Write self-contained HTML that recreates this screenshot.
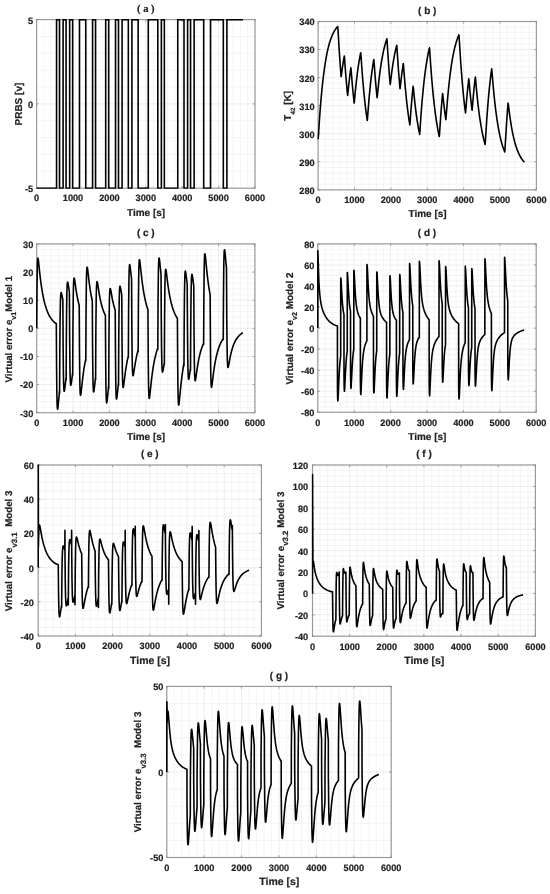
<!DOCTYPE html><html><head><meta charset="utf-8"><title>Figure</title><style>html,body{margin:0;padding:0;background:#fff}svg{display:block}text{text-rendering:geometricPrecision}</style></head><body>
<svg width="550" height="894" viewBox="0 0 550 894">
<rect width="550" height="894" fill="#fff"/>
<g id="pa">
<path d="M43.88 19.6V188.2M51.16 19.6V188.2M58.44 19.6V188.2M65.72 19.6V188.2M80.28 19.6V188.2M87.56 19.6V188.2M94.84 19.6V188.2M102.12 19.6V188.2M116.68 19.6V188.2M123.96 19.6V188.2M131.24 19.6V188.2M138.52 19.6V188.2M153.08 19.6V188.2M160.36 19.6V188.2M167.64 19.6V188.2M174.92 19.6V188.2M189.48 19.6V188.2M196.76 19.6V188.2M204.04 19.6V188.2M211.32 19.6V188.2M225.88 19.6V188.2M233.16 19.6V188.2M240.44 19.6V188.2M247.72 19.6V188.2M36.6 171.34H255M36.6 154.48H255M36.6 137.62H255M36.6 120.76H255M36.6 87.04H255M36.6 70.18H255M36.6 53.32H255M36.6 36.46H255" stroke="#f1f1f1" stroke-width="0.8" fill="none"/>
<path d="M36.6 19.6V188.2M73 19.6V188.2M109.4 19.6V188.2M145.8 19.6V188.2M182.2 19.6V188.2M218.6 19.6V188.2M255 19.6V188.2M36.6 188.2H255M36.6 103.9H255M36.6 19.6H255" stroke="#ebebeb" stroke-width="0.9" fill="none"/>
<rect x="36.6" y="19.6" width="218.4" height="168.6" fill="none" stroke="#999" stroke-width="1.15"/>
<path d="M36.6 188.2v-2.2M36.6 19.6v2.2M73 188.2v-2.2M73 19.6v2.2M109.4 188.2v-2.2M109.4 19.6v2.2M145.8 188.2v-2.2M145.8 19.6v2.2M182.2 188.2v-2.2M182.2 19.6v2.2M218.6 188.2v-2.2M218.6 19.6v2.2M255 188.2v-2.2M255 19.6v2.2M36.6 188.2h2.2M255 188.2h-2.2M36.6 103.9h2.2M255 103.9h-2.2M36.6 19.6h2.2M255 19.6h-2.2" stroke="#8a8a8a" stroke-width="0.8" fill="none"/>
<clipPath id="cppa"><rect x="35.6" y="19" width="220.4" height="169.8"/></clipPath>
<polyline clip-path="url(#cppa)" points="36.6,188.2 56.55,188.2 56.55,19.6 59.53,19.6 59.53,188.2 63.1,188.2 63.1,19.6 66.08,19.6 66.08,188.2 69.65,188.2 69.65,19.6 72.64,19.6 72.64,188.2 79.48,188.2 79.48,19.6 85.74,19.6 85.74,188.2 92.58,188.2 92.58,19.6 95.57,19.6 95.57,188.2 105.69,188.2 105.69,19.6 108.67,19.6 108.67,188.2 115.52,188.2 115.52,19.6 118.5,19.6 118.5,188.2 122.07,188.2 122.07,19.6 128.33,19.6 128.33,188.2 131.9,188.2 131.9,19.6 138.16,19.6 138.16,188.2 148.28,188.2 148.28,19.6 157.81,19.6 157.81,188.2 161.38,188.2 161.38,19.6 164.36,19.6 164.36,188.2 177.76,188.2 177.76,19.6 184.02,19.6 184.02,188.2 187.59,188.2 187.59,19.6 190.57,19.6 190.57,188.2 194.14,188.2 194.14,19.6 203.68,19.6 203.68,188.2 210.52,188.2 210.52,19.6 223.33,19.6 223.33,188.2 226.9,188.2 226.9,19.6 242.99,19.6" fill="none" stroke="#000" stroke-width="1.6" stroke-linejoin="round"/>
<g font-family='"Liberation Sans", Arial, Helvetica, sans-serif' font-weight="bold" font-size="9.2" fill="#222" stroke="#222" stroke-width="0.2">
<text x="36.6" y="201.4" text-anchor="middle">0</text>
<text x="73" y="201.4" text-anchor="middle">1000</text>
<text x="109.4" y="201.4" text-anchor="middle">2000</text>
<text x="145.8" y="201.4" text-anchor="middle">3000</text>
<text x="182.2" y="201.4" text-anchor="middle">4000</text>
<text x="218.6" y="201.4" text-anchor="middle">5000</text>
<text x="255" y="201.4" text-anchor="middle">6000</text>
<text x="33.2" y="192.1" text-anchor="end">-5</text>
<text x="33.2" y="107.8" text-anchor="end">0</text>
<text x="33.2" y="23.5" text-anchor="end">5</text>
</g>
<text x="146.1" y="215.5" text-anchor="middle" font-family='"Liberation Sans", Arial, Helvetica, sans-serif' font-weight="bold" font-size="10" fill="#222" stroke="#222" stroke-width="0.2">Time [s]</text>
<text x="145.8" y="11.7" text-anchor="middle" font-family='"Liberation Serif", "Times New Roman", serif' font-weight="bold" font-size="10.6" fill="#222" stroke="#222" stroke-width="0.2" xml:space="preserve" style="white-space:pre">( a )</text>
<text transform="translate(21.5 104.1) rotate(-90)" text-anchor="middle" font-family='"Liberation Sans", Arial, Helvetica, sans-serif' font-weight="bold" font-size="10" fill="#222" stroke="#222" stroke-width="0.2" xml:space="preserve" style="white-space:pre"><tspan dy="0">PRBS [v]</tspan></text>
</g>
<g id="pb">
<path d="M325.38 21.5V189.9M332.65 21.5V189.9M339.93 21.5V189.9M347.21 21.5V189.9M361.76 21.5V189.9M369.04 21.5V189.9M376.31 21.5V189.9M383.59 21.5V189.9M398.14 21.5V189.9M405.42 21.5V189.9M412.7 21.5V189.9M419.97 21.5V189.9M434.53 21.5V189.9M441.8 21.5V189.9M449.08 21.5V189.9M456.36 21.5V189.9M470.91 21.5V189.9M478.19 21.5V189.9M485.46 21.5V189.9M492.74 21.5V189.9M507.29 21.5V189.9M514.57 21.5V189.9M521.85 21.5V189.9M529.12 21.5V189.9M318.1 184.29H536.4M318.1 178.67H536.4M318.1 173.06H536.4M318.1 167.45H536.4M318.1 156.22H536.4M318.1 150.61H536.4M318.1 144.99H536.4M318.1 139.38H536.4M318.1 128.15H536.4M318.1 122.54H536.4M318.1 116.93H536.4M318.1 111.31H536.4M318.1 100.09H536.4M318.1 94.47H536.4M318.1 88.86H536.4M318.1 83.25H536.4M318.1 72.02H536.4M318.1 66.41H536.4M318.1 60.79H536.4M318.1 55.18H536.4M318.1 43.95H536.4M318.1 38.34H536.4M318.1 32.73H536.4M318.1 27.11H536.4" stroke="#f1f1f1" stroke-width="0.8" fill="none"/>
<path d="M318.1 21.5V189.9M354.48 21.5V189.9M390.87 21.5V189.9M427.25 21.5V189.9M463.63 21.5V189.9M500.02 21.5V189.9M536.4 21.5V189.9M318.1 189.9H536.4M318.1 161.83H536.4M318.1 133.77H536.4M318.1 105.7H536.4M318.1 77.63H536.4M318.1 49.57H536.4M318.1 21.5H536.4" stroke="#ebebeb" stroke-width="0.9" fill="none"/>
<rect x="318.1" y="21.5" width="218.3" height="168.4" fill="none" stroke="#999" stroke-width="1.15"/>
<path d="M318.1 189.9v-2.2M318.1 21.5v2.2M354.48 189.9v-2.2M354.48 21.5v2.2M390.87 189.9v-2.2M390.87 21.5v2.2M427.25 189.9v-2.2M427.25 21.5v2.2M463.63 189.9v-2.2M463.63 21.5v2.2M500.02 189.9v-2.2M500.02 21.5v2.2M536.4 189.9v-2.2M536.4 21.5v2.2M318.1 189.9h2.2M536.4 189.9h-2.2M318.1 161.83h2.2M536.4 161.83h-2.2M318.1 133.77h2.2M536.4 133.77h-2.2M318.1 105.7h2.2M536.4 105.7h-2.2M318.1 77.63h2.2M536.4 77.63h-2.2M318.1 49.57h2.2M536.4 49.57h-2.2M318.1 21.5h2.2M536.4 21.5h-2.2" stroke="#8a8a8a" stroke-width="0.8" fill="none"/>
<clipPath id="cppb"><rect x="317.1" y="20.9" width="220.3" height="169.6"/></clipPath>
<polyline clip-path="url(#cppb)" points="318.1,139.38 318.28,137.64 319.23,122.82 320.1,110.64 320.94,100.32 321.77,91.16 322.72,82.04 323.7,73.79 324.76,66.13 325.85,59.34 327.01,53.17 328.25,47.66 329.56,42.79 330.98,38.44 332.47,34.74 333.27,33.05 334.11,31.49 334.98,30.04 335.86,28.76 336.76,27.59 337.75,26.49 337.93,28.35 338.84,44.31 339.64,57.04 341.06,76.42 341.13,76.56 341.24,76.08 342.84,64.57 343.68,59.45 344.33,55.97 344.51,57.65 345.42,70.33 346.22,80.42 347.13,90.65 347.57,95.14 347.64,95.44 347.83,94.24 348.7,85.53 349.46,78.65 350.26,72.21 350.88,67.85 351.06,69.24 351.94,80.17 352.74,89.26 354.16,103.07 354.23,102.93 354.34,102.04 355.25,92.09 356.01,84.53 357.39,72.8 358.19,66.99 359.03,61.59 359.94,56.41 360.7,52.69 360.89,54.44 362.49,76.52 363.91,92.63 364.71,100.46 365.54,107.8 366.45,114.9 367.25,120.35 367.44,118.89 369.04,98.61 370.42,84.35 371.22,77.29 372.02,71 372.89,64.91 373.77,59.53 373.8,59.46 373.84,59.58 373.95,60.6 374.93,73.81 375.8,84.38 376.68,93.79 377.04,97.4 377.11,97.68 377.3,96.42 378.5,84.32 379.37,76.67 380.42,68.61 381.55,61.24 382.75,54.59 384.03,48.69 385.41,43.39 386.86,38.83 386.94,39.09 387.05,40.4 387.99,55.54 388.83,67.63 389.7,78.88 390.21,84.45 390.39,83.53 391.27,76.08 392.03,70.18 393.41,61.02 394.21,56.49 395.05,52.28 396,48.08 396.72,45.35 396.91,47.28 398.54,71.22 400,88.54 400.04,88.62 400.07,88.55 400.18,87.89 401.2,78.73 402.07,71.73 403.09,64.6 403.24,63.66 403.27,63.56 403.31,63.67 404.98,84.26 406.44,99.38 407.28,106.83 408.11,113.5 409.02,119.94 409.82,124.89 410,123.3 410.91,110.75 411.75,100.41 412.66,90.49 413.06,86.52 413.13,86.31 413.32,87.61 414.88,103.02 416.3,114.56 417.1,120.16 417.94,125.42 418.88,130.69 419.65,134.37 419.83,132.54 421.06,114.3 421.94,103.12 422.99,91.35 424.12,80.59 425.36,70.62 426.67,61.82 428.09,53.98 428.92,50.05 429.47,47.86 429.65,49.73 430.89,67.88 431.8,79.55 432.85,91.42 433.98,102.38 435.22,112.66 436.49,121.6 437.91,129.93 438.71,133.98 439.29,136.54 439.47,134.66 440.35,121.25 441.11,110.67 441.88,101.19 442.57,93.61 442.6,93.57 442.64,93.67 442.75,94.38 443.77,103.83 444.64,111.1 445.62,118.32 445.81,119.56 445.84,119.69 445.88,119.61 447.41,100.6 448.61,87.74 449.99,75.43 451.48,64.61 452.28,59.69 453.12,55.12 453.99,50.89 454.86,47.17 455.81,43.62 456.79,40.41 457.81,37.53 458.9,34.87 458.98,35.16 459.09,36.54 460.76,63.04 462.14,81.05 462.94,90.05 463.78,98.49 464.69,106.65 465.49,112.95 465.67,111.67 466.54,100.96 467.34,92.11 468.11,84.55 468.76,78.84 468.84,79.04 468.95,79.97 469.85,90.1 470.66,98.18 472.04,110.16 472.11,109.95 472.22,108.95 473.17,97.74 474,88.87 474.95,80.04 475.28,77.26 475.31,77.1 475.35,77.14 475.53,78.65 476.73,92.07 477.64,100.96 478.7,110.02 479.82,118.38 481.06,126.22 482.37,133.22 483.79,139.54 484.63,142.75 485.14,144.41 485.32,142.32 486.88,117.76 488.3,99.63 489.1,90.92 489.94,82.82 490.85,75.05 491.68,68.88 491.87,70.25 493.29,87.3 494.34,98.15 495.58,109.07 496.92,119.07 498.38,128.04 499.14,132.09 499.94,135.92 500.78,139.51 501.62,142.71 502.49,145.7 503.4,148.46 504.75,151.98 504.82,151.69 506.6,122.54 507.51,109.92 508.02,103.54 508.09,103.17 508.28,104.06 509.95,117.14 511.4,126.45 512.24,131.04 513.11,135.31 513.99,139.11 514.93,142.76 515.92,146.09 516.93,149.11 518.03,151.92 519.15,154.43 520.35,156.71 521.63,158.76 522.97,160.58 524.39,162.18" fill="none" stroke="#000" stroke-width="1.6" stroke-linejoin="round"/>
<g font-family='"Liberation Sans", Arial, Helvetica, sans-serif' font-weight="bold" font-size="9.2" fill="#222" stroke="#222" stroke-width="0.2">
<text x="318.1" y="203.1" text-anchor="middle">0</text>
<text x="354.48" y="203.1" text-anchor="middle">1000</text>
<text x="390.87" y="203.1" text-anchor="middle">2000</text>
<text x="427.25" y="203.1" text-anchor="middle">3000</text>
<text x="463.63" y="203.1" text-anchor="middle">4000</text>
<text x="500.02" y="203.1" text-anchor="middle">5000</text>
<text x="536.4" y="203.1" text-anchor="middle">6000</text>
<text x="314.7" y="193.8" text-anchor="end">280</text>
<text x="314.7" y="165.73" text-anchor="end">290</text>
<text x="314.7" y="137.67" text-anchor="end">300</text>
<text x="314.7" y="109.6" text-anchor="end">310</text>
<text x="314.7" y="81.53" text-anchor="end">320</text>
<text x="314.7" y="53.47" text-anchor="end">330</text>
<text x="314.7" y="25.4" text-anchor="end">340</text>
</g>
<text x="427.55" y="217.2" text-anchor="middle" font-family='"Liberation Sans", Arial, Helvetica, sans-serif' font-weight="bold" font-size="10" fill="#222" stroke="#222" stroke-width="0.2">Time [s]</text>
<text x="427.25" y="13.6" text-anchor="middle" font-family='"Liberation Sans", Arial, Helvetica, sans-serif' font-weight="bold" font-size="10" fill="#222" stroke="#222" stroke-width="0.2" xml:space="preserve" style="white-space:pre">( b )</text>
<text transform="translate(291.4 105.8) rotate(-90)" text-anchor="middle" font-family='"Liberation Sans", Arial, Helvetica, sans-serif' font-weight="bold" font-size="10" fill="#222" stroke="#222" stroke-width="0.2" xml:space="preserve" style="white-space:pre"><tspan dy="0">T</tspan><tspan font-size="6.2" dy="4.0">42</tspan><tspan dy="-4.0"> [K]</tspan></text>
</g>
<g id="pc">
<path d="M43.97 243.9V412.7M51.25 243.9V412.7M58.52 243.9V412.7M65.79 243.9V412.7M80.34 243.9V412.7M87.61 243.9V412.7M94.89 243.9V412.7M102.16 243.9V412.7M116.71 243.9V412.7M123.98 243.9V412.7M131.25 243.9V412.7M138.53 243.9V412.7M153.07 243.9V412.7M160.35 243.9V412.7M167.62 243.9V412.7M174.89 243.9V412.7M189.44 243.9V412.7M196.71 243.9V412.7M203.99 243.9V412.7M211.26 243.9V412.7M225.81 243.9V412.7M233.08 243.9V412.7M240.35 243.9V412.7M247.63 243.9V412.7M36.7 407.07H254.9M36.7 401.45H254.9M36.7 395.82H254.9M36.7 390.19H254.9M36.7 378.94H254.9M36.7 373.31H254.9M36.7 367.69H254.9M36.7 362.06H254.9M36.7 350.81H254.9M36.7 345.18H254.9M36.7 339.55H254.9M36.7 333.93H254.9M36.7 322.67H254.9M36.7 317.05H254.9M36.7 311.42H254.9M36.7 305.79H254.9M36.7 294.54H254.9M36.7 288.91H254.9M36.7 283.29H254.9M36.7 277.66H254.9M36.7 266.41H254.9M36.7 260.78H254.9M36.7 255.15H254.9M36.7 249.53H254.9" stroke="#f1f1f1" stroke-width="0.8" fill="none"/>
<path d="M36.7 243.9V412.7M73.07 243.9V412.7M109.43 243.9V412.7M145.8 243.9V412.7M182.17 243.9V412.7M218.53 243.9V412.7M254.9 243.9V412.7M36.7 412.7H254.9M36.7 384.57H254.9M36.7 356.43H254.9M36.7 328.3H254.9M36.7 300.17H254.9M36.7 272.03H254.9M36.7 243.9H254.9" stroke="#ebebeb" stroke-width="0.9" fill="none"/>
<rect x="36.7" y="243.9" width="218.2" height="168.8" fill="none" stroke="#999" stroke-width="1.15"/>
<path d="M36.7 412.7v-2.2M36.7 243.9v2.2M73.07 412.7v-2.2M73.07 243.9v2.2M109.43 412.7v-2.2M109.43 243.9v2.2M145.8 412.7v-2.2M145.8 243.9v2.2M182.17 412.7v-2.2M182.17 243.9v2.2M218.53 412.7v-2.2M218.53 243.9v2.2M254.9 412.7v-2.2M254.9 243.9v2.2M36.7 412.7h2.2M254.9 412.7h-2.2M36.7 384.57h2.2M254.9 384.57h-2.2M36.7 356.43h2.2M254.9 356.43h-2.2M36.7 328.3h2.2M254.9 328.3h-2.2M36.7 300.17h2.2M254.9 300.17h-2.2M36.7 272.03h2.2M254.9 272.03h-2.2M36.7 243.9h2.2M254.9 243.9h-2.2" stroke="#8a8a8a" stroke-width="0.8" fill="none"/>
<clipPath id="cppc"><rect x="35.7" y="243.3" width="220.2" height="170"/></clipPath>
<polyline clip-path="url(#cppc)" points="36.7,328.3 36.92,294.71 37.17,273.45 37.32,266.63 37.5,261.55 37.68,259.04 37.79,258.38 37.9,258.17 38.01,258.3 38.12,258.7 38.41,260.6 40.23,277.39 40.95,283.13 41.68,288.16 42.48,292.97 43.32,297.32 44.19,301.24 45.14,304.88 46.19,308.33 47.36,311.52 48.59,314.32 49.9,316.77 51.32,318.92 52.85,320.79 54.48,322.37 56.3,323.74 56.59,369.56 56.85,392.9 56.99,400.33 57.17,405.81 57.36,408.46 57.47,409.12 57.54,409.27 57.61,409.24 57.83,408.33 58.12,405.94 59.57,390.26 59.61,393.55 59.83,349.12 60.08,319.87 60.41,301.79 60.59,296.96 60.85,293.62 60.96,292.97 61.1,292.59 61.17,292.56 61.28,292.66 61.47,293.12 61.87,294.85 62.85,300 63.14,347.79 63.39,372.14 63.57,381.65 63.76,387.13 63.98,390.32 64.08,391 64.23,391.26 64.34,391.1 64.45,390.71 64.74,388.97 66.12,377.45 66.16,380.07 66.34,341.93 66.56,313.83 66.81,295.86 67.1,286.22 67.25,283.91 67.39,282.64 67.58,282.07 67.65,282.06 67.76,282.23 67.98,283.02 68.23,284.4 69.39,292.03 69.68,340.68 69.98,367.66 70.16,376.4 70.34,381.43 70.56,384.36 70.7,385.1 70.78,385.22 70.85,385.21 71.07,384.57 71.36,382.89 72.67,372.85 72.7,375.12 72.96,326.06 73.25,297.55 73.43,288.18 73.65,281.92 73.9,278.74 74.05,278.14 74.12,278.06 74.19,278.1 74.41,278.72 74.67,280.07 76.12,290.18 77.1,296.07 78.12,301.1 79.21,305.52 79.5,353.23 79.76,377.22 79.94,386.48 80.12,391.72 80.34,394.64 80.45,395.19 80.52,395.32 80.59,395.29 80.81,394.51 81.07,392.78 82.67,378.36 83.87,369.41 84.78,363.88 85.76,358.88 85.8,360.92 86.01,317.72 86.3,287.17 86.49,277.25 86.67,271.53 86.89,268.17 87.03,267.31 87.1,267.16 87.18,267.17 87.4,267.85 87.69,269.71 89.14,282.04 90.12,289.2 91.18,295.52 92.3,301 92.56,344.24 92.81,370.81 93.1,385.23 93.29,389.39 93.5,391.55 93.61,391.86 93.69,391.87 93.76,391.75 94.09,390.11 95.58,377.32 95.61,379.67 95.87,330.39 96.16,301.65 96.34,292.14 96.56,285.71 96.81,282.36 96.96,281.66 97.03,281.53 97.11,281.52 97.32,282.02 97.61,283.42 98.92,291.93 99.72,296.6 100.41,300.09 101.14,303.3 102.09,306.86 103.11,310.06 104.2,312.92 105.4,315.5 105.69,362.22 105.91,383.38 106.05,391.82 106.23,398.22 106.41,401.52 106.52,402.48 106.63,402.89 106.67,402.93 106.74,402.89 106.89,402.41 107.18,400.39 108.67,385.51 108.71,388.43 108.92,344.17 109.14,318.2 109.43,299.96 109.62,294.11 109.83,290.35 109.98,289.12 110.12,288.57 110.2,288.49 110.31,288.54 110.52,289.1 110.92,290.99 112.23,298.4 113.03,302.3 114.09,306.58 115.22,310.28 115.51,357.45 115.76,381.29 115.91,388.99 116.09,394.8 116.31,398.11 116.42,398.77 116.49,398.95 116.56,398.96 116.78,398.23 117.07,396.17 118.49,382.69 118.53,385.46 118.74,341.31 119,312.36 119.33,294.65 119.51,290.02 119.76,286.94 119.87,286.4 120.02,286.17 120.16,286.33 120.34,286.89 120.74,288.92 121.76,295.07 122.05,343.42 122.34,370.26 122.53,378.93 122.71,383.89 122.96,386.98 123.11,387.49 123.18,387.51 123.25,387.41 123.43,386.76 123.69,385.23 125.29,372.67 126.49,364.84 127.36,360.16 128.31,355.87 128.34,357.74 128.6,309.49 128.93,279.69 129.11,271.75 129.36,266.28 129.51,265.01 129.65,264.6 129.73,264.63 129.84,264.91 130.05,266.05 131.58,279.27 131.87,329.24 132.16,356.73 132.34,365.78 132.56,371.86 132.82,374.97 132.96,375.58 133.04,375.68 133.14,375.61 133.33,375.11 133.58,373.87 135.14,363.83 136.31,357.6 137.18,353.77 138.13,350.28 138.16,351.72 138.38,308.82 138.67,278.66 138.82,270.52 139,264.33 139.22,260.71 139.33,259.94 139.47,259.64 139.58,259.82 139.69,260.25 139.94,261.92 141.95,280.2 142.75,286.23 143.62,291.85 144.6,297.17 145.62,301.78 146.75,306.03 147.95,309.75 148.24,357.13 148.49,380.92 148.64,388.6 148.82,394.39 149.04,397.67 149.15,398.32 149.22,398.49 149.29,398.49 149.51,397.74 149.8,395.66 151.15,382.8 151.98,375.72 152.75,370.18 153.55,365.19 154.75,358.97 156.09,353.39 156.89,350.63 157.76,347.99 157.8,349.49 158.02,306.71 158.31,276.69 158.46,268.61 158.64,262.49 158.86,258.97 158.96,258.24 159.04,258.03 159.11,257.99 159.33,258.68 159.62,260.74 161.04,274.44 161.29,319.82 161.55,347.49 161.87,364.31 162.06,368.65 162.27,371.23 162.38,371.81 162.49,372.06 162.57,372.08 162.64,372 162.78,371.64 163.22,369.53 164.31,362.83 164.35,364.38 164.6,315.73 164.89,287.67 165.07,278.57 165.26,273.33 165.51,270.01 165.66,269.43 165.73,269.38 165.8,269.45 166.02,270.24 166.27,271.83 167.73,283.48 168.71,290.28 169.77,296.32 170.89,301.6 171.58,304.34 172.31,306.9 173.04,309.16 173.84,311.35 174.64,313.28 175.51,315.12 176.42,316.78 177.4,318.33 177.69,364.77 177.95,388.28 178.09,395.81 178.28,401.4 178.46,404.16 178.57,404.88 178.64,405.08 178.71,405.09 178.93,404.3 179.18,402.4 180.82,385.7 182.06,375.26 182.97,369.01 183.95,363.32 183.99,365.7 184.2,322.35 184.46,294.29 184.79,277.67 184.97,273.61 185.08,272.24 185.22,271.29 185.33,271.07 185.48,271.23 185.8,272.83 187.22,284.13 187.51,333.54 187.77,358.47 187.95,368.37 188.13,374.22 188.35,377.84 188.46,378.74 188.6,379.27 188.71,379.31 188.86,379.02 189.15,377.68 190.49,368.44 190.53,370.43 190.71,332.56 190.93,304.77 191.19,287.14 191.48,277.88 191.62,275.75 191.77,274.67 191.84,274.41 191.95,274.31 192.13,274.68 192.57,277.11 193.77,286.12 194.06,335.46 194.35,362.64 194.53,371.5 194.71,376.66 194.97,380.02 195.11,380.67 195.19,380.76 195.26,380.73 195.48,380.11 195.77,378.51 197.08,369.14 197.88,364.05 198.64,359.87 199.48,355.94 200.68,351.28 201.99,347.2 202.75,345.2 203.59,343.28 203.62,344.42 203.88,296.71 204.17,269.67 204.35,261.17 204.53,256.52 204.64,254.98 204.79,253.97 204.86,253.81 204.93,253.82 205.08,254.26 205.48,257.2 206.86,271.3 207.84,279.99 208.93,287.93 210.13,294.99 210.42,343.87 210.68,368.2 210.86,377.69 211.04,383.16 211.26,386.35 211.37,387.03 211.51,387.3 211.62,387.15 211.73,386.77 212.02,385.06 213.51,372.96 214.53,365.92 215.59,359.98 216.75,354.69 217.48,351.91 218.28,349.24 219.12,346.81 220.02,344.53 221.3,341.83 222.64,339.5 223.22,338.63 223.26,339.46 223.48,297.01 223.73,269.96 223.88,261.2 224.06,254.57 224.24,251.16 224.35,250.18 224.5,249.72 224.61,249.87 224.75,250.51 225.04,252.79 226.5,268.29 226.79,319.48 227.04,344.91 227.37,360.36 227.59,364.9 227.84,367.11 227.95,367.43 228.03,367.49 228.1,367.47 228.28,367.09 228.46,366.4 230.24,356.79 230.9,353.76 231.59,350.97 232.83,346.85 233.48,345.04 234.21,343.26 235.08,341.42 235.99,339.77 236.97,338.24 237.99,336.9 239.08,335.67 240.28,334.53 241.55,333.53 242.9,332.65" fill="none" stroke="#000" stroke-width="1.6" stroke-linejoin="round"/>
<g font-family='"Liberation Sans", Arial, Helvetica, sans-serif' font-weight="bold" font-size="9.2" fill="#222" stroke="#222" stroke-width="0.2">
<text x="36.7" y="426" text-anchor="middle">0</text>
<text x="73.07" y="426" text-anchor="middle">1000</text>
<text x="109.43" y="426" text-anchor="middle">2000</text>
<text x="145.8" y="426" text-anchor="middle">3000</text>
<text x="182.17" y="426" text-anchor="middle">4000</text>
<text x="218.53" y="426" text-anchor="middle">5000</text>
<text x="254.9" y="426" text-anchor="middle">6000</text>
<text x="33.3" y="416.6" text-anchor="end">-30</text>
<text x="33.3" y="388.47" text-anchor="end">-20</text>
<text x="33.3" y="360.33" text-anchor="end">-10</text>
<text x="33.3" y="332.2" text-anchor="end">0</text>
<text x="33.3" y="304.07" text-anchor="end">10</text>
<text x="33.3" y="275.93" text-anchor="end">20</text>
<text x="33.3" y="247.8" text-anchor="end">30</text>
</g>
<text x="146.1" y="439.7" text-anchor="middle" font-family='"Liberation Sans", Arial, Helvetica, sans-serif' font-weight="bold" font-size="10" fill="#222" stroke="#222" stroke-width="0.2">Time [s]</text>
<text x="145.8" y="236" text-anchor="middle" font-family='"Liberation Sans", Arial, Helvetica, sans-serif' font-weight="bold" font-size="10" fill="#222" stroke="#222" stroke-width="0.2" xml:space="preserve" style="white-space:pre">( c )</text>
<text transform="translate(12.1 329.2) rotate(-90)" text-anchor="middle" font-family='"Liberation Sans", Arial, Helvetica, sans-serif' font-weight="bold" font-size="9.6" fill="#222" stroke="#222" stroke-width="0.2" xml:space="preserve" style="white-space:pre"><tspan dy="0">Virtual error e</tspan><tspan font-size="7.2" dy="4.0">v1</tspan><tspan dy="-4.0">Model 1</tspan></text>
</g>
<g id="pd">
<path d="M325.08 243.9V412.3M332.36 243.9V412.3M339.64 243.9V412.3M346.92 243.9V412.3M361.48 243.9V412.3M368.76 243.9V412.3M376.04 243.9V412.3M383.32 243.9V412.3M397.88 243.9V412.3M405.16 243.9V412.3M412.44 243.9V412.3M419.72 243.9V412.3M434.28 243.9V412.3M441.56 243.9V412.3M448.84 243.9V412.3M456.12 243.9V412.3M470.68 243.9V412.3M477.96 243.9V412.3M485.24 243.9V412.3M492.52 243.9V412.3M507.08 243.9V412.3M514.36 243.9V412.3M521.64 243.9V412.3M528.92 243.9V412.3M317.8 407.04H536.2M317.8 401.78H536.2M317.8 396.51H536.2M317.8 385.99H536.2M317.8 380.73H536.2M317.8 375.46H536.2M317.8 364.94H536.2M317.8 359.68H536.2M317.8 354.41H536.2M317.8 343.89H536.2M317.8 338.62H536.2M317.8 333.36H536.2M317.8 322.84H536.2M317.8 317.58H536.2M317.8 312.31H536.2M317.8 301.79H536.2M317.8 296.52H536.2M317.8 291.26H536.2M317.8 280.74H536.2M317.8 275.48H536.2M317.8 270.21H536.2M317.8 259.69H536.2M317.8 254.43H536.2M317.8 249.16H536.2" stroke="#f1f1f1" stroke-width="0.8" fill="none"/>
<path d="M317.8 243.9V412.3M354.2 243.9V412.3M390.6 243.9V412.3M427 243.9V412.3M463.4 243.9V412.3M499.8 243.9V412.3M536.2 243.9V412.3M317.8 412.3H536.2M317.8 391.25H536.2M317.8 370.2H536.2M317.8 349.15H536.2M317.8 328.1H536.2M317.8 307.05H536.2M317.8 286H536.2M317.8 264.95H536.2M317.8 243.9H536.2" stroke="#ebebeb" stroke-width="0.9" fill="none"/>
<rect x="317.8" y="243.9" width="218.4" height="168.4" fill="none" stroke="#999" stroke-width="1.15"/>
<path d="M317.8 412.3v-2.2M317.8 243.9v2.2M354.2 412.3v-2.2M354.2 243.9v2.2M390.6 412.3v-2.2M390.6 243.9v2.2M427 412.3v-2.2M427 243.9v2.2M463.4 412.3v-2.2M463.4 243.9v2.2M499.8 412.3v-2.2M499.8 243.9v2.2M536.2 412.3v-2.2M536.2 243.9v2.2M317.8 412.3h2.2M536.2 412.3h-2.2M317.8 391.25h2.2M536.2 391.25h-2.2M317.8 370.2h2.2M536.2 370.2h-2.2M317.8 349.15h2.2M536.2 349.15h-2.2M317.8 328.1h2.2M536.2 328.1h-2.2M317.8 307.05h2.2M536.2 307.05h-2.2M317.8 286h2.2M536.2 286h-2.2M317.8 264.95h2.2M536.2 264.95h-2.2M317.8 243.9h2.2M536.2 243.9h-2.2" stroke="#8a8a8a" stroke-width="0.8" fill="none"/>
<clipPath id="cppd"><rect x="316.8" y="243.3" width="220.4" height="169.6"/></clipPath>
<polyline clip-path="url(#cppd)" points="317.8,328.1 317.84,250.74 318.89,281.84 319.29,288.26 319.8,294.52 320.35,299.4 321,303.58 321.8,307.23 322.31,309.03 322.9,310.79 323.55,312.48 324.28,314.11 325.08,315.67 325.92,317.09 326.83,318.45 327.81,319.72 328.79,320.82 329.81,321.81 330.9,322.72 332.07,323.54 333.27,324.26 334.58,324.92 335.96,325.49 337.42,325.98 337.46,388.13 337.64,398.17 337.71,399.94 337.82,400.95 337.89,400.81 337.97,400.19 338.11,397.92 338.95,378.5 339.46,369.15 340.04,361.62 340.7,355.94 340.73,278.57 340.8,278.07 340.84,278.03 340.88,278.11 340.95,278.57 341.1,280.35 341.93,296.03 342.52,304.31 343.17,310.32 343.53,312.6 343.97,314.68 344.01,376.83 344.19,387.65 344.37,391.12 344.44,391.23 344.52,390.84 344.7,388.4 345.5,371.43 346.05,362.32 346.59,355.98 347.25,350.89 347.28,272.92 347.36,272.49 347.43,272.6 347.5,273.11 347.65,275.02 348.49,291.33 349.07,300.01 349.72,306.41 350.09,308.89 350.52,311.2 350.56,373.79 350.67,381.45 350.81,386.76 350.96,388.36 351.03,388.23 351.14,387.25 352.09,368.25 352.53,361.02 353.11,354.17 353.8,348.92 353.84,270.69 353.95,270.29 354.09,271.34 354.24,273.51 354.93,287.43 355.36,294.82 355.84,300.8 356.35,305.4 357.04,309.61 357.44,311.37 357.88,312.92 358.39,314.38 358.97,315.75 359.62,317.02 360.35,318.21 360.39,381.28 360.57,391.51 360.68,393.92 360.79,394.51 360.93,393.42 361.08,391.03 361.81,374.51 362.21,366.89 362.64,360.53 363.15,355.17 363.81,350.49 364.17,348.58 364.61,346.73 365.08,345.11 365.59,343.66 366.21,342.2 366.9,340.82 366.94,264.64 367.01,264.49 367.19,265.74 367.49,270.21 368.07,283.06 368.54,291.39 368.98,297.13 369.49,302.01 370.18,306.56 370.58,308.5 371.02,310.22 371.53,311.88 372.07,313.35 372.73,314.85 373.46,316.26 373.49,379.57 373.67,389.84 373.78,392.27 373.89,392.89 374.04,391.84 374.18,389.48 374.95,372.34 375.46,363.25 376.04,356.03 376.73,350.5 376.77,272.4 376.84,271.96 376.91,272.07 376.99,272.59 377.13,274.49 377.97,290.83 378.52,299.08 379.1,305.09 379.46,307.79 379.83,309.91 380.3,312.05 380.84,313.93 381.46,315.57 382.19,317.08 383.1,318.58 384.12,319.94 385.29,321.22 386.56,322.37 386.6,384.98 386.78,395.09 386.85,396.89 386.96,397.95 387.03,397.84 387.11,397.25 387.25,395.04 388.09,375.93 388.6,366.74 389.18,359.39 389.84,353.9 389.91,275.94 389.98,275.76 390.05,276.04 390.24,278.15 391,292.79 391.47,300.22 391.91,305.27 392.42,309.46 393.08,313.07 393.48,314.63 393.91,315.98 394.42,317.23 394.97,318.3 395.62,319.35 396.39,320.36 396.42,383.15 396.61,393.34 396.72,395.72 396.82,396.28 396.97,395.17 397.12,392.74 397.88,375.29 398.39,366 398.97,358.58 399.66,352.82 399.7,275.03 399.77,274.57 399.81,274.55 399.85,274.64 400.03,276.44 400.94,293.68 401.52,302 402.18,308.09 402.54,310.45 402.94,312.45 402.98,374.89 403.16,385.76 403.27,388.5 403.34,389.27 403.41,389.4 403.56,388.27 403.7,385.97 404.4,371.28 404.83,363.5 405.27,357.63 405.74,353 406.4,348.59 407.16,345.21 407.64,343.69 408.18,342.25 408.8,340.91 409.49,339.64 409.56,263.46 409.64,263.54 409.75,264.32 409.96,267.34 410.8,284.77 411.35,293.45 412,300.48 412.37,303.28 412.77,305.73 412.8,368.96 412.99,379.99 413.17,383.66 413.24,383.85 413.31,383.54 413.5,381.28 414.26,365.76 414.73,357.91 415.13,352.98 415.61,348.72 416.26,344.75 416.63,343.18 417.03,341.8 417.5,340.5 418.01,339.37 418.63,338.26 419.32,337.23 419.36,261.39 419.43,261.27 419.61,262.6 419.83,265.91 420.63,282.49 421.14,290.84 421.76,297.9 422.49,303.37 423,306.08 423.54,308.37 424.2,310.57 424.96,312.64 425.84,314.59 426.85,316.48 427.95,318.19 429.15,319.76 429.18,382.69 429.37,392.87 429.48,395.24 429.58,395.8 429.73,394.68 429.88,392.26 430.68,374.06 431.19,364.99 431.77,357.78 432.13,354.52 432.5,351.95 432.97,349.34 433.48,347.17 434.1,345.11 434.79,343.28 435.66,341.41 436.65,339.68 437.77,338.03 438.98,336.54 439.05,260.72 439.12,260.83 439.23,261.67 439.45,264.78 440.32,282.65 440.87,291.35 441.49,298.13 441.85,301.05 442.25,303.63 442.29,367.12 442.47,378.2 442.65,381.91 442.72,382.12 442.8,381.82 442.98,379.61 443.82,362.91 444.33,355.03 444.87,349.21 445.53,344.7 445.56,266.76 445.6,266.56 445.64,266.48 445.67,266.5 445.82,267.42 446.04,270.37 446.84,286.75 447.46,295.93 447.82,299.83 448.18,302.9 448.62,305.78 449.13,308.36 449.79,310.86 450.59,313.18 451.53,315.3 452.66,317.31 453.97,319.19 455.39,320.84 456.96,322.3 458.63,323.54 458.67,385.99 458.85,396.09 458.92,397.87 459.03,398.92 459.1,398.8 459.18,398.2 459.36,395.26 460.09,378.31 460.52,369.86 460.96,363.45 461.43,358.33 462.09,353.37 462.89,349.32 463.36,347.54 463.91,345.83 464.49,344.29 465.18,342.72 465.26,266.23 465.29,266.2 465.33,266.28 465.44,267.02 465.66,269.96 466.42,286.31 467.04,296.13 467.7,302.92 468.06,305.6 468.46,307.92 468.5,370.87 468.68,381.86 468.79,384.67 468.9,385.64 468.97,385.54 469.04,385.01 469.19,383.02 469.99,366.64 470.5,358.37 471.08,351.86 471.74,347.12 471.77,268.97 471.84,268.66 471.92,268.77 471.99,269.22 472.14,270.97 472.97,287.74 473.56,296.7 474.21,303.4 474.57,306.04 475.01,308.51 475.05,371.44 475.23,382.4 475.34,385.19 475.45,386.14 475.52,386.03 475.59,385.49 475.74,383.49 476.58,366.34 477.09,358.22 477.67,351.84 478,349.26 478.36,346.99 478.8,344.89 479.31,343.01 479.89,341.37 480.58,339.87 481.42,338.42 482.44,337.01 483.57,335.73 484.84,334.52 484.91,258.9 484.99,259.03 485.09,259.89 485.31,263.06 486.19,280.75 486.59,287.53 487.02,293.2 487.5,297.8 488.19,302.62 489.03,306.64 489.54,308.52 490.08,310.23 490.7,311.9 491.39,313.52 491.43,377.19 491.61,387.51 491.79,390.57 491.83,390.63 491.86,390.54 491.94,390.02 492.08,387.96 492.96,368.92 493.58,358.88 493.9,355.07 494.27,351.75 494.67,348.95 495.14,346.44 495.72,344.15 496.45,342.06 497.32,340.18 498.38,338.43 499.69,336.71 501.15,335.17 502.75,333.8 504.5,332.61 504.57,257.18 504.71,257.85 504.93,260.81 505.92,280.34 506.42,288.44 507.04,295.35 507.77,300.83 507.81,364.68 507.99,375.81 508.1,378.72 508.21,379.77 508.24,379.81 508.28,379.73 508.35,379.25 508.5,377.38 509.41,359.65 510.03,351.01 510.39,347.48 510.79,344.57 511.27,342.06 511.81,340.01 512.54,338.14 513.41,336.6 514.54,335.2 515.93,333.92 517.67,332.69 519.64,331.63 521.79,330.75 524.19,330.02" fill="none" stroke="#000" stroke-width="1.6" stroke-linejoin="round"/>
<g font-family='"Liberation Sans", Arial, Helvetica, sans-serif' font-weight="bold" font-size="9.2" fill="#222" stroke="#222" stroke-width="0.2">
<text x="317.8" y="425.6" text-anchor="middle">0</text>
<text x="354.2" y="425.6" text-anchor="middle">1000</text>
<text x="390.6" y="425.6" text-anchor="middle">2000</text>
<text x="427" y="425.6" text-anchor="middle">3000</text>
<text x="463.4" y="425.6" text-anchor="middle">4000</text>
<text x="499.8" y="425.6" text-anchor="middle">5000</text>
<text x="536.2" y="425.6" text-anchor="middle">6000</text>
<text x="314.4" y="416.2" text-anchor="end">-80</text>
<text x="314.4" y="395.15" text-anchor="end">-60</text>
<text x="314.4" y="374.1" text-anchor="end">-40</text>
<text x="314.4" y="353.05" text-anchor="end">-20</text>
<text x="314.4" y="332" text-anchor="end">0</text>
<text x="314.4" y="310.95" text-anchor="end">20</text>
<text x="314.4" y="289.9" text-anchor="end">40</text>
<text x="314.4" y="268.85" text-anchor="end">60</text>
<text x="314.4" y="247.8" text-anchor="end">80</text>
</g>
<text x="427.3" y="439.5" text-anchor="middle" font-family='"Liberation Sans", Arial, Helvetica, sans-serif' font-weight="bold" font-size="10" fill="#222" stroke="#222" stroke-width="0.2">Time [s]</text>
<text x="427" y="236" text-anchor="middle" font-family='"Liberation Sans", Arial, Helvetica, sans-serif' font-weight="bold" font-size="10" fill="#222" stroke="#222" stroke-width="0.2" xml:space="preserve" style="white-space:pre">( d )</text>
<text transform="translate(293.2 328.5) rotate(-90)" text-anchor="middle" font-family='"Liberation Sans", Arial, Helvetica, sans-serif' font-weight="bold" font-size="9.9" fill="#222" stroke="#222" stroke-width="0.2" xml:space="preserve" style="white-space:pre"><tspan dy="0">Virtual error e</tspan><tspan font-size="7.2" dy="4.0">v2</tspan><tspan dy="-4.0"> Model 2</tspan></text>
</g>
<g id="pe">
<path d="M45.64 465V636M53.08 465V636M60.52 465V636M67.96 465V636M82.84 465V636M90.28 465V636M97.72 465V636M105.16 465V636M120.04 465V636M127.48 465V636M134.92 465V636M142.36 465V636M157.24 465V636M164.68 465V636M172.12 465V636M179.56 465V636M194.44 465V636M201.88 465V636M209.32 465V636M216.76 465V636M231.64 465V636M239.08 465V636M246.52 465V636M253.96 465V636M38.2 627.45H261.4M38.2 618.9H261.4M38.2 610.35H261.4M38.2 593.25H261.4M38.2 584.7H261.4M38.2 576.15H261.4M38.2 559.05H261.4M38.2 550.5H261.4M38.2 541.95H261.4M38.2 524.85H261.4M38.2 516.3H261.4M38.2 507.75H261.4M38.2 490.65H261.4M38.2 482.1H261.4M38.2 473.55H261.4" stroke="#f1f1f1" stroke-width="0.8" fill="none"/>
<path d="M38.2 465V636M75.4 465V636M112.6 465V636M149.8 465V636M187 465V636M224.2 465V636M261.4 465V636M38.2 636H261.4M38.2 601.8H261.4M38.2 567.6H261.4M38.2 533.4H261.4M38.2 499.2H261.4M38.2 465H261.4" stroke="#ebebeb" stroke-width="0.9" fill="none"/>
<rect x="38.2" y="465" width="223.2" height="171" fill="none" stroke="#999" stroke-width="1.15"/>
<path d="M38.2 636v-2.2M38.2 465v2.2M75.4 636v-2.2M75.4 465v2.2M112.6 636v-2.2M112.6 465v2.2M149.8 636v-2.2M149.8 465v2.2M187 636v-2.2M187 465v2.2M224.2 636v-2.2M224.2 465v2.2M261.4 636v-2.2M261.4 465v2.2M38.2 636h2.2M261.4 636h-2.2M38.2 601.8h2.2M261.4 601.8h-2.2M38.2 567.6h2.2M261.4 567.6h-2.2M38.2 533.4h2.2M261.4 533.4h-2.2M38.2 499.2h2.2M261.4 499.2h-2.2M38.2 465h2.2M261.4 465h-2.2" stroke="#8a8a8a" stroke-width="0.8" fill="none"/>
<clipPath id="cppe"><rect x="37.2" y="464.4" width="225.2" height="172.2"/></clipPath>
<polyline clip-path="url(#cppe)" points="38.2,567.6 38.24,439.35 38.42,547.18 38.61,537.09 38.87,529.34 39.13,525.97 39.32,525.1 39.39,524.99 39.5,525.01 39.73,525.52 39.99,526.63 41.77,536.47 42.48,539.82 43.22,542.91 44.04,545.88 44.9,548.56 45.83,551.06 46.79,553.29 47.87,555.39 49.06,557.34 50.33,559.06 51.67,560.55 53.12,561.87 54.68,563.01 56.39,564 58.25,564.83 58.55,592.68 58.77,605.4 58.92,610.44 59.11,614.21 59.29,616.11 59.4,616.63 59.52,616.82 59.63,616.75 59.78,616.38 60.07,615 61.6,605.26 61.64,607.26 61.97,571.25 62.19,559.16 62.42,552.29 62.71,547.77 62.9,546.52 63.12,545.93 63.31,545.9 63.57,546.29 64.65,549.48 64.69,549.56 64.72,549.4 64.84,545.16 64.95,530.32 65.02,556.38 65.21,576.42 65.39,589.09 65.58,596.92 65.77,601.6 66.03,604.84 66.17,605.6 66.32,605.86 66.43,605.82 66.55,605.63 66.84,604.63 68.07,598.67 68.18,599.86 68.29,605.05 68.63,566.19 68.85,553.22 69.11,545.07 69.41,540.9 69.6,539.85 69.71,539.57 69.82,539.49 70.01,539.65 70.27,540.29 71.35,544.41 71.38,544.53 71.42,544.46 71.53,541.41 71.64,530.32 71.72,551.92 72.01,580.45 72.35,595.04 72.54,598.88 72.76,601.26 72.87,601.83 73.02,602.17 73.17,602.16 73.35,601.8 73.73,600.47 74.77,595.83 74.88,597.62 74.99,604.71 75.21,572.96 75.55,550.43 75.73,544.13 75.96,539.87 76.22,537.64 76.37,537.17 76.44,537.08 76.55,537.09 76.78,537.47 77.04,538.28 78.52,544.43 79.53,548.01 80.57,551.07 81.69,553.76 81.98,582.75 82.24,597.33 82.39,602.06 82.58,605.66 82.77,607.52 82.88,608.07 83.03,608.34 83.14,608.28 83.25,608.06 83.55,606.96 85.26,597.85 86.52,592.3 87.42,589.1 88.38,586.18 88.42,587.42 88.64,561.17 88.94,542.6 89.13,536.57 89.31,533.09 89.54,531.05 89.65,530.61 89.8,530.43 89.91,530.52 90.02,530.75 90.32,531.82 91.84,539.48 92.88,543.98 93.93,547.67 95.08,551.01 95.34,577.29 95.56,591.74 95.86,601.48 96.05,604.35 96.27,605.92 96.38,606.2 96.46,606.25 96.53,606.21 96.83,605.46 98.2,598.66 98.32,600.4 98.43,607.44 98.65,575.63 98.98,552.94 99.17,546.55 99.39,542.19 99.65,539.85 99.8,539.32 99.88,539.2 99.99,539.17 100.21,539.47 100.51,540.32 101.85,545.49 102.67,548.33 103.37,550.45 104.12,552.4 105.09,554.57 106.13,556.52 107.24,558.25 108.47,559.82 108.77,588.22 108.99,601.08 109.14,606.21 109.33,610.1 109.51,612.1 109.62,612.69 109.77,612.96 109.88,612.89 110.03,612.53 110.33,611.23 111.82,602.37 111.86,604.15 112.08,577.24 112.34,559.58 112.67,548.72 112.9,545.47 113.16,543.79 113.27,543.51 113.42,543.4 113.6,543.56 113.79,543.94 115.43,549.31 116.25,551.7 117.32,554.32 118.51,556.65 118.81,585.32 119.07,599.81 119.22,604.49 119.41,608.02 119.63,610.03 119.74,610.44 119.82,610.54 119.89,610.55 120.11,610.1 120.41,608.85 121.86,600.66 121.9,602.34 122.23,566.58 122.46,554.64 122.68,547.92 122.98,543.6 123.16,542.46 123.28,542.13 123.39,542 123.57,542.09 123.83,542.62 124.91,546.35 124.95,546.45 124.99,546.35 125.1,542.84 125.21,530.32 125.32,558.41 125.51,576.79 125.69,588.39 125.88,595.55 126.1,600.39 126.36,602.94 126.51,603.47 126.66,603.59 126.88,603.24 127.18,602.21 128.82,594.57 130.08,589.68 130.98,586.86 131.91,584.36 131.94,585.49 132.28,550.7 132.5,539.37 132.76,532.55 132.91,530.55 133.06,529.44 133.25,528.9 133.32,528.88 133.43,529 133.62,529.49 133.88,530.57 135.03,536.48 135.14,534.41 135.25,526.22 135.4,553.96 135.7,578.07 136.04,590.38 136.22,593.62 136.48,595.81 136.59,596.2 136.74,596.4 136.89,596.32 137.08,595.96 137.49,594.64 138.94,589.06 140.02,585.62 140.95,583.17 141.95,580.96 141.99,581.83 142.21,555.76 142.51,537.43 142.69,531.54 142.88,528.2 143.1,526.32 143.22,525.96 143.29,525.87 143.36,525.88 143.59,526.35 143.89,527.61 145.22,535.13 146.04,539.25 146.79,542.49 147.57,545.45 148.57,548.68 149.61,551.48 150.77,554.06 151.99,556.32 152.26,582.14 152.52,598.08 152.66,603.27 152.85,607.23 153.04,609.3 153.15,609.93 153.3,610.26 153.41,610.23 153.52,610.02 153.78,609.08 155.23,600.93 155.94,597.3 156.83,593.36 157.8,589.77 159.03,586.04 160.4,582.69 161.18,581.1 162.04,579.57 162.08,580.48 162.3,554.47 162.56,537.81 162.71,532.36 162.89,528.18 163.12,525.69 163.23,525.13 163.38,524.86 163.49,524.93 163.6,525.17 163.9,526.35 165.16,533.46 165.28,531.72 165.39,524.51 165.46,542.01 165.68,565.55 165.91,579.26 166.17,587.94 166.47,592.49 166.65,593.69 166.76,594.05 166.87,594.2 166.99,594.19 167.1,594.07 167.36,593.49 168.44,589.65 168.47,589.55 168.51,589.63 168.62,592.79 168.73,604.19 168.88,574.57 169.22,547.84 169.4,540.34 169.63,535.24 169.89,532.53 170.04,531.94 170.11,531.82 170.22,531.8 170.45,532.2 170.74,533.28 172.23,540.36 173.27,544.63 174.35,548.28 175.51,551.46 176.92,554.59 177.66,555.97 178.48,557.3 179.3,558.47 180.19,559.59 181.12,560.6 182.13,561.54 182.42,589.77 182.65,602.58 182.8,607.67 182.98,611.51 183.17,613.48 183.28,614.04 183.39,614.27 183.5,614.24 183.65,613.92 183.95,612.64 185.66,602.28 186.96,595.81 187.86,592.2 188.82,588.89 188.86,590.33 189.19,555.3 189.38,545.3 189.64,537.53 189.94,533.76 190.12,532.95 190.2,532.83 190.31,532.83 190.5,533.15 190.76,534.03 191.87,539.36 191.91,539.51 191.95,539.49 192.06,536.73 192.17,526.39 192.21,542.16 192.43,567.71 192.65,582.57 192.95,592.83 193.25,597.17 193.44,598.26 193.55,598.54 193.66,598.62 193.88,598.35 194.14,597.62 195.22,593.21 195.3,593.09 195.41,595.42 195.52,604.19 195.67,578.19 195.97,553.3 196.3,540.68 196.49,537.4 196.71,535.44 196.82,535 196.97,534.78 197.12,534.88 197.3,535.29 197.64,536.49 198.64,540.82 198.76,538.68 198.87,530.49 199.05,561.85 199.39,585.43 199.57,592.03 199.8,596.51 200.06,598.86 200.24,599.43 200.32,599.49 200.43,599.44 200.65,598.99 200.91,598.12 202.21,592.58 203.03,589.46 203.81,586.9 204.67,584.5 205.9,581.64 207.24,579.15 208.06,577.87 208.91,576.71 208.95,577.4 209.17,551.49 209.43,534.94 209.58,529.55 209.77,525.44 209.95,523.3 210.06,522.65 210.21,522.32 210.32,522.37 210.47,522.71 210.77,523.99 212.33,533.38 213.41,538.94 214.45,543.35 215.61,547.35 215.87,574.04 216.13,590.3 216.46,599.85 216.69,602.43 216.8,603.06 216.95,603.43 217.06,603.45 217.21,603.23 217.5,602.25 219.1,594.57 220.22,590.06 221.26,586.63 222.41,583.55 223.16,581.87 223.98,580.26 224.83,578.79 225.73,577.46 227.03,575.83 228.4,574.41 229,573.88 229.04,574.38 229.26,548.58 229.52,532.14 229.67,526.82 229.85,522.79 230.04,520.71 230.15,520.11 230.26,519.86 230.38,519.87 230.52,520.2 230.82,521.5 232.12,529.67 232.16,529.7 232.2,529.52 232.24,529.08 232.35,525.53 232.57,555.7 232.87,576.05 233.05,582.91 233.24,587.09 233.46,589.85 233.72,591.19 233.83,591.38 233.98,591.41 234.17,591.18 234.36,590.76 236.18,584.91 236.85,583.07 237.55,581.38 238.82,578.88 240.23,576.7 241.13,575.57 242.06,574.57 243.06,573.64 244.1,572.82 245.22,572.08 246.45,571.39 247.75,570.78 249.12,570.24" fill="none" stroke="#000" stroke-width="1.6" stroke-linejoin="round"/>
<g font-family='"Liberation Sans", Arial, Helvetica, sans-serif' font-weight="bold" font-size="9.2" fill="#222" stroke="#222" stroke-width="0.2">
<text x="38.2" y="649.3" text-anchor="middle">0</text>
<text x="75.4" y="649.3" text-anchor="middle">1000</text>
<text x="112.6" y="649.3" text-anchor="middle">2000</text>
<text x="149.8" y="649.3" text-anchor="middle">3000</text>
<text x="187" y="649.3" text-anchor="middle">4000</text>
<text x="224.2" y="649.3" text-anchor="middle">5000</text>
<text x="261.4" y="649.3" text-anchor="middle">6000</text>
<text x="33.9" y="639.9" text-anchor="end">-40</text>
<text x="33.9" y="605.7" text-anchor="end">-20</text>
<text x="33.9" y="571.5" text-anchor="end">0</text>
<text x="33.9" y="537.3" text-anchor="end">20</text>
<text x="33.9" y="503.1" text-anchor="end">40</text>
<text x="33.9" y="468.9" text-anchor="end">60</text>
</g>
<text x="150.1" y="663.5" text-anchor="middle" font-family='"Liberation Sans", Arial, Helvetica, sans-serif' font-weight="bold" font-size="10.5" fill="#222" stroke="#222" stroke-width="0.2">Time [s]</text>
<text x="149.8" y="457.1" text-anchor="middle" font-family='"Liberation Sans", Arial, Helvetica, sans-serif' font-weight="bold" font-size="10" fill="#222" stroke="#222" stroke-width="0.2" xml:space="preserve" style="white-space:pre">( e )</text>
<text transform="translate(12.1 550.9) rotate(-90)" text-anchor="middle" font-family='"Liberation Sans", Arial, Helvetica, sans-serif' font-weight="bold" font-size="9.75" fill="#222" stroke="#222" stroke-width="0.2" xml:space="preserve" style="white-space:pre"><tspan dy="0">Virtual error e</tspan><tspan font-size="7.8" dy="4.4">v3.1</tspan><tspan dy="-4.4">  Model 3</tspan></text>
</g>
<g id="pf">
<path d="M319.93 465V636.2M327.36 465V636.2M334.79 465V636.2M342.22 465V636.2M357.08 465V636.2M364.51 465V636.2M371.94 465V636.2M379.37 465V636.2M394.23 465V636.2M401.66 465V636.2M409.09 465V636.2M416.52 465V636.2M431.38 465V636.2M438.81 465V636.2M446.24 465V636.2M453.67 465V636.2M468.53 465V636.2M475.96 465V636.2M483.39 465V636.2M490.82 465V636.2M505.68 465V636.2M513.11 465V636.2M520.54 465V636.2M527.97 465V636.2M312.5 630.85H535.4M312.5 625.5H535.4M312.5 620.15H535.4M312.5 609.45H535.4M312.5 604.1H535.4M312.5 598.75H535.4M312.5 588.05H535.4M312.5 582.7H535.4M312.5 577.35H535.4M312.5 566.65H535.4M312.5 561.3H535.4M312.5 555.95H535.4M312.5 545.25H535.4M312.5 539.9H535.4M312.5 534.55H535.4M312.5 523.85H535.4M312.5 518.5H535.4M312.5 513.15H535.4M312.5 502.45H535.4M312.5 497.1H535.4M312.5 491.75H535.4M312.5 481.05H535.4M312.5 475.7H535.4M312.5 470.35H535.4" stroke="#f1f1f1" stroke-width="0.8" fill="none"/>
<path d="M312.5 465V636.2M349.65 465V636.2M386.8 465V636.2M423.95 465V636.2M461.1 465V636.2M498.25 465V636.2M535.4 465V636.2M312.5 636.2H535.4M312.5 614.8H535.4M312.5 593.4H535.4M312.5 572H535.4M312.5 550.6H535.4M312.5 529.2H535.4M312.5 507.8H535.4M312.5 486.4H535.4M312.5 465H535.4" stroke="#ebebeb" stroke-width="0.9" fill="none"/>
<rect x="312.5" y="465" width="222.9" height="171.2" fill="none" stroke="#999" stroke-width="1.15"/>
<path d="M312.5 636.2v-2.2M312.5 465v2.2M349.65 636.2v-2.2M349.65 465v2.2M386.8 636.2v-2.2M386.8 465v2.2M423.95 636.2v-2.2M423.95 465v2.2M461.1 636.2v-2.2M461.1 465v2.2M498.25 636.2v-2.2M498.25 465v2.2M535.4 636.2v-2.2M535.4 465v2.2M312.5 636.2h2.2M535.4 636.2h-2.2M312.5 614.8h2.2M535.4 614.8h-2.2M312.5 593.4h2.2M535.4 593.4h-2.2M312.5 572h2.2M535.4 572h-2.2M312.5 550.6h2.2M535.4 550.6h-2.2M312.5 529.2h2.2M535.4 529.2h-2.2M312.5 507.8h2.2M535.4 507.8h-2.2M312.5 486.4h2.2M535.4 486.4h-2.2M312.5 465h2.2M535.4 465h-2.2" stroke="#8a8a8a" stroke-width="0.8" fill="none"/>
<clipPath id="cppf"><rect x="311.5" y="464.4" width="224.9" height="172.4"/></clipPath>
<polyline clip-path="url(#cppf)" points="312.5,593.4 312.54,474.63 312.91,564.29 313.09,561.45 313.21,560.97 313.28,560.97 313.35,561.14 313.58,562.28 314.28,567.2 314.77,570.05 315.36,572.88 316.03,575.44 316.88,578.07 317.81,580.36 318.85,582.42 320.04,584.3 321.16,585.73 322.38,587.01 323.72,588.14 325.21,589.15 326.8,590.02 328.55,590.76 330.44,591.38 332.52,591.89 332.9,623.04 333.12,629.69 333.27,631.34 333.42,631.78 333.53,631.6 333.68,630.96 334.46,625.94 334.94,623.26 335.38,621.28 335.87,619.62 336.2,583.24 336.42,575.05 336.54,573.39 336.68,572.53 336.76,572.48 336.87,572.69 337.2,574.34 337.39,574.95 337.61,575.35 337.87,575.47 338.17,575.22 338.5,574.53 338.84,573.49 339.21,572 339.32,592.69 339.55,612.01 339.77,620.36 339.92,622.76 340.1,623.86 340.21,623.91 340.36,623.55 341.18,619.8 341.66,617.98 342.11,616.73 342.55,615.87 342.74,590.72 342.89,578.94 343.11,570.92 343.22,569.33 343.37,568.58 343.48,568.64 343.59,569.02 343.93,570.92 344.15,571.84 344.37,572.5 344.6,572.92 344.89,573.17 345.19,573.1 345.53,572.72 345.9,572 346.01,590.3 346.2,607.45 346.38,616.11 346.64,620.95 346.79,621.74 346.86,621.83 346.98,621.72 347.79,618.43 348.2,617.05 348.72,615.81 349.24,615.12 349.43,589.14 349.58,577.39 349.8,569.42 349.95,567.56 350.02,567.21 350.1,567.12 350.21,567.33 350.36,568 351.06,572.53 351.51,574.96 351.99,577.07 352.51,578.91 353.22,580.92 354.03,582.76 354.93,584.36 355.93,585.8 356.3,617.53 356.52,624.39 356.67,626.18 356.75,626.58 356.86,626.76 357.01,626.46 357.23,625.36 358.12,619.37 358.68,616.09 359.68,611.48 360.46,608.77 361.32,606.44 361.95,605.03 362.62,603.76 362.65,604.29 362.8,583.5 362.95,571.98 363.17,564.31 363.28,562.9 363.43,562.36 363.54,562.58 363.69,563.33 364.44,568.78 364.88,571.56 365.36,574.01 365.88,576.16 366.59,578.52 367.41,580.7 368.3,582.6 369.3,584.3 369.67,616.2 369.86,622.37 369.97,624.21 370.12,625.35 370.19,625.53 370.27,625.53 370.42,625.14 371.64,618.81 372.13,617.03 372.65,615.66 372.83,590.7 372.98,578.9 373.2,570.85 373.35,568.94 373.5,568.46 373.61,568.63 373.76,569.26 374.58,574.26 375.21,577.26 375.95,579.85 376.84,582.17 378,584.38 378.63,585.35 379.33,586.27 380.08,587.1 380.89,587.87 381.75,588.56 382.68,589.2 383.05,620.68 383.27,627.4 383.42,629.11 383.57,629.59 383.68,629.45 383.83,628.86 384.57,624.43 385.05,622.02 385.54,620.18 386.02,618.87 386.21,593.51 386.35,581.64 386.54,574.33 386.65,572.29 386.8,571.13 386.91,571 387.06,571.37 388.21,577.68 388.73,579.77 389.29,581.51 389.96,583.17 390.7,584.63 391.63,586.06 392.71,587.35 392.74,587.59 392.89,606.13 393.08,618.88 393.3,625.69 393.45,627.46 393.52,627.85 393.64,628.01 393.86,627.36 394.56,623.47 395.05,621.28 395.53,619.68 396.05,618.55 396.35,583.05 396.53,574.43 396.64,571.94 396.79,570.44 396.9,570.15 397.02,570.3 397.57,572.95 397.83,573.71 398.13,574.19 398.43,574.3 398.73,574.11 399.06,573.61 399.39,572.86 399.54,595.62 399.77,612.57 400.03,620.44 400.17,622.08 400.29,622.56 400.4,622.63 400.55,622.3 400.73,621.5 402.14,613.67 402.66,611.4 403.18,609.48 403.96,607.11 404.85,604.98 405.45,603.81 406.08,602.75 406.12,603.24 406.27,582.48 406.42,570.99 406.64,563.36 406.75,561.96 406.82,561.56 406.9,561.45 407.08,562.02 407.68,566.03 408.2,568.53 408.46,569.38 408.76,570.1 409.09,570.63 409.42,570.93 409.61,594.44 409.8,607.72 410.02,615.12 410.17,617.26 410.32,618.15 410.39,618.29 410.46,618.29 410.69,617.72 412.14,610.6 412.69,608.42 413.33,606.4 414.03,604.58 414.85,602.89 415.44,601.89 416.11,600.94 416.15,601.27 416.3,580.54 416.45,569.09 416.67,561.52 416.78,560.16 416.85,559.77 416.93,559.68 417.04,559.94 417.19,560.75 418.04,567.26 418.67,571.06 419.45,574.59 420.35,577.64 421.5,580.63 422.13,581.95 422.84,583.22 423.58,584.37 424.36,585.42 425.21,586.4 426.14,587.31 426.51,619.04 426.74,625.81 426.88,627.55 427.03,628.07 427.18,627.85 427.4,626.78 428.45,619.61 429.19,615.37 429.97,611.88 430.86,608.8 431.42,607.24 432.05,605.73 432.72,604.38 433.46,603.11 434.57,601.55 435.8,600.19 436.17,599.83 436.21,600.38 436.36,579.7 436.51,568.28 436.69,561.49 436.8,559.75 436.95,558.98 437.06,559.13 437.18,559.63 437.84,564.49 438.36,567.39 438.92,569.49 439.52,570.93 439.7,592.98 439.89,606.3 440.11,613.75 440.26,615.92 440.41,616.84 440.52,617.02 440.63,616.92 441.3,614.93 441.6,614.27 441.86,613.87 442.08,613.65 442.34,613.54 442.6,613.57 442.86,613.73 443.01,589.85 443.19,574.01 443.42,566.14 443.57,564.36 443.64,564.04 443.71,563.99 443.83,564.25 443.97,564.99 444.98,571.61 445.68,575.02 446.17,576.84 446.72,578.61 447.32,580.21 447.99,581.72 448.77,583.21 449.58,584.51 450.48,585.69 451.44,586.77 452.48,587.74 453.63,588.63 454.9,589.43 456.23,590.12 456.6,621.52 456.83,628.21 456.98,629.89 457.12,630.35 457.27,630.08 457.5,628.94 458.43,622.22 458.98,618.69 459.5,615.9 460.02,613.53 460.8,610.61 461.69,607.97 462.29,606.52 462.92,605.19 462.96,605.85 463.11,585.03 463.25,573.47 463.48,565.76 463.59,564.32 463.74,563.76 463.92,564.26 464.52,568.06 465.04,570.34 465.3,571.08 465.6,571.67 465.93,572.06 466.26,572.21 466.45,595.85 466.64,609.09 466.9,617.14 467.04,618.87 467.23,619.56 467.34,619.49 467.45,619.21 468.16,616.55 468.64,615.13 469.12,614.21 469.61,613.73 469.9,578.21 470.09,569.75 470.2,567.35 470.35,565.96 470.46,565.76 470.61,566.13 471.24,569.71 471.76,571.62 472.02,572.2 472.32,572.62 472.62,572.83 472.95,572.86 473.14,596.81 473.32,609.99 473.58,617.96 473.73,619.65 473.84,620.18 473.95,620.29 474.1,620.01 474.29,619.27 475.33,613.61 476.03,610.43 476.81,607.67 477.71,605.24 478.26,604.02 478.89,602.84 479.56,601.79 480.27,600.85 481.35,599.68 482.54,598.64 482.98,598.31 483.02,598.72 483.17,578.08 483.32,566.7 483.5,559.95 483.61,558.23 483.76,557.5 483.84,557.56 483.91,557.81 484.06,558.67 484.8,564.66 485.28,567.96 485.77,570.64 486.29,573.03 486.99,575.7 487.81,578.19 488.7,580.39 489.67,582.33 490.04,614.49 490.26,621.45 490.41,623.31 490.56,623.94 490.63,623.95 490.71,623.83 490.93,622.91 492.12,615.52 493.01,611.2 494.01,607.63 494.57,606.08 495.17,604.69 495.91,603.24 496.73,601.93 497.62,600.77 498.62,599.7 499.92,598.59 501.41,597.6 503.04,596.76 503.08,597.08 503.23,576.48 503.38,565.13 503.56,558.43 503.67,556.74 503.82,556.04 503.93,556.23 504.05,556.78 504.68,561.55 505.2,564.44 505.75,566.43 506.05,567.15 506.39,567.72 506.57,591.19 506.76,604.55 506.98,612.06 507.13,614.26 507.31,615.32 507.39,615.42 507.46,615.39 507.69,614.81 508.99,608.78 509.51,606.83 510.03,605.19 510.58,603.74 511.22,602.38 511.88,601.21 512.59,600.2 513.44,599.21 514.41,598.33 515.49,597.54 516.71,596.84 518.05,596.23 519.57,595.69 521.28,595.22 523.14,594.82" fill="none" stroke="#000" stroke-width="1.6" stroke-linejoin="round"/>
<g font-family='"Liberation Sans", Arial, Helvetica, sans-serif' font-weight="bold" font-size="9.2" fill="#222" stroke="#222" stroke-width="0.2">
<text x="312.5" y="649.5" text-anchor="middle">0</text>
<text x="349.65" y="649.5" text-anchor="middle">1000</text>
<text x="386.8" y="649.5" text-anchor="middle">2000</text>
<text x="423.95" y="649.5" text-anchor="middle">3000</text>
<text x="461.1" y="649.5" text-anchor="middle">4000</text>
<text x="498.25" y="649.5" text-anchor="middle">5000</text>
<text x="535.4" y="649.5" text-anchor="middle">6000</text>
<text x="308.2" y="640.1" text-anchor="end">-40</text>
<text x="308.2" y="618.7" text-anchor="end">-20</text>
<text x="308.2" y="597.3" text-anchor="end">0</text>
<text x="308.2" y="575.9" text-anchor="end">20</text>
<text x="308.2" y="554.5" text-anchor="end">40</text>
<text x="308.2" y="533.1" text-anchor="end">60</text>
<text x="308.2" y="511.7" text-anchor="end">80</text>
<text x="308.2" y="490.3" text-anchor="end">100</text>
<text x="308.2" y="468.9" text-anchor="end">120</text>
</g>
<text x="424.25" y="663.6" text-anchor="middle" font-family='"Liberation Sans", Arial, Helvetica, sans-serif' font-weight="bold" font-size="10.5" fill="#222" stroke="#222" stroke-width="0.2">Time [s]</text>
<text x="423.95" y="457.1" text-anchor="middle" font-family='"Liberation Sans", Arial, Helvetica, sans-serif' font-weight="bold" font-size="10" fill="#222" stroke="#222" stroke-width="0.2" xml:space="preserve" style="white-space:pre">( f )</text>
<text transform="translate(283.8 550.5) rotate(-90)" text-anchor="middle" font-family='"Liberation Sans", Arial, Helvetica, sans-serif' font-weight="bold" font-size="9.75" fill="#222" stroke="#222" stroke-width="0.2" xml:space="preserve" style="white-space:pre"><tspan dy="0">Virtual error e</tspan><tspan font-size="7.8" dy="4.4">v3.2</tspan><tspan dy="-4.4"> Model 3</tspan></text>
</g>
<g id="pg">
<path d="M174.28 686.4V857.5M181.76 686.4V857.5M189.24 686.4V857.5M196.72 686.4V857.5M211.68 686.4V857.5M219.16 686.4V857.5M226.64 686.4V857.5M234.12 686.4V857.5M249.08 686.4V857.5M256.56 686.4V857.5M264.04 686.4V857.5M271.52 686.4V857.5M286.48 686.4V857.5M293.96 686.4V857.5M301.44 686.4V857.5M308.92 686.4V857.5M323.88 686.4V857.5M331.36 686.4V857.5M338.84 686.4V857.5M346.32 686.4V857.5M361.28 686.4V857.5M368.76 686.4V857.5M376.24 686.4V857.5M383.72 686.4V857.5M166.8 840.39H391.2M166.8 823.28H391.2M166.8 806.17H391.2M166.8 789.06H391.2M166.8 754.84H391.2M166.8 737.73H391.2M166.8 720.62H391.2M166.8 703.51H391.2" stroke="#f1f1f1" stroke-width="0.8" fill="none"/>
<path d="M166.8 686.4V857.5M204.2 686.4V857.5M241.6 686.4V857.5M279 686.4V857.5M316.4 686.4V857.5M353.8 686.4V857.5M391.2 686.4V857.5M166.8 857.5H391.2M166.8 771.95H391.2M166.8 686.4H391.2" stroke="#ebebeb" stroke-width="0.9" fill="none"/>
<rect x="166.8" y="686.4" width="224.4" height="171.1" fill="none" stroke="#999" stroke-width="1.15"/>
<path d="M166.8 857.5v-2.2M166.8 686.4v2.2M204.2 857.5v-2.2M204.2 686.4v2.2M241.6 857.5v-2.2M241.6 686.4v2.2M279 857.5v-2.2M279 686.4v2.2M316.4 857.5v-2.2M316.4 686.4v2.2M353.8 857.5v-2.2M353.8 686.4v2.2M391.2 857.5v-2.2M391.2 686.4v2.2M166.8 857.5h2.2M391.2 857.5h-2.2M166.8 771.95h2.2M391.2 771.95h-2.2M166.8 686.4h2.2M391.2 686.4h-2.2" stroke="#8a8a8a" stroke-width="0.8" fill="none"/>
<clipPath id="cppg"><rect x="165.8" y="685.8" width="226.4" height="172.3"/></clipPath>
<polyline clip-path="url(#cppg)" points="166.8,771.95 166.84,701.8 167.1,711.55 167.14,722.79 167.32,716.44 167.51,712.82 167.74,711.05 167.85,710.94 168,711.38 168.18,712.65 168.45,715.29 169.83,732.27 170.58,739.33 171.1,743.18 171.7,746.7 172.34,749.67 173.05,752.32 174.13,755.48 175.4,758.34 176.9,760.96 177.72,762.16 178.58,763.27 179.44,764.26 180.38,765.2 181.35,766.05 182.36,766.83 183.41,767.52 184.53,768.16 185.72,768.74 186.96,769.25 187,803.45 187.22,823.31 187.41,833.75 187.59,840.14 187.82,843.93 187.93,844.64 187.97,844.74 188.04,844.76 188.27,843.65 188.57,840.34 189.69,823.15 190.32,814.8 190.36,781.67 190.55,762.26 190.89,741.25 191.07,734.97 191.3,730.84 191.45,729.58 191.6,729.21 191.75,729.5 191.93,730.53 193.69,748.28 193.73,783.26 193.99,807.58 194.18,818.38 194.4,826.24 194.63,830.12 194.74,830.98 194.81,831.24 194.89,831.29 195,831.02 195.11,830.42 195.41,827.68 196.5,813.73 197.06,807.4 197.09,773.85 197.43,743.75 197.62,734.18 197.84,727.27 198.07,723.9 198.22,723.06 198.29,722.95 198.37,723.03 198.59,724.07 198.85,726.35 199.9,738.46 200.42,743.76 200.46,779.08 200.76,806.09 200.95,816.12 201.17,823.32 201.4,826.79 201.51,827.51 201.58,827.69 201.66,827.68 201.88,826.7 202.14,824.34 203.23,810.83 203.79,804.71 203.83,770.97 204.13,743.43 204.31,733.09 204.54,725.53 204.76,721.74 204.91,720.71 204.99,720.53 205.06,720.55 205.28,721.48 205.51,723.34 206.89,739.36 207.38,743.98 207.87,747.74 208.43,751.18 209.02,754 209.74,756.54 210.52,758.66 210.56,793.6 210.78,813.84 210.97,824.59 211.16,831.26 211.38,835.36 211.49,836.23 211.57,836.46 211.64,836.47 211.87,835.38 212.09,833.15 213.51,813.21 214,807.65 214.49,803.11 215.05,798.96 215.68,795.35 216.39,792.29 217.25,789.49 217.29,755.85 217.55,732.59 217.74,722.44 217.93,716.15 218.15,712.29 218.26,711.49 218.34,711.27 218.41,711.28 218.64,712.34 218.86,714.49 220.28,733.58 220.77,738.9 221.25,743.25 221.82,747.22 222.45,750.68 223.16,753.61 223.98,756.18 224.02,791.3 224.17,805.86 224.51,825.54 224.7,830.94 224.92,833.99 225.03,834.47 225.11,834.49 225.18,834.32 225.52,831.71 226.75,814.55 227.35,807.37 227.39,773.72 227.69,745.95 227.87,735.49 228.1,727.79 228.32,723.88 228.47,722.77 228.55,722.56 228.62,722.54 228.85,723.37 229.11,725.51 230.23,738.4 230.87,744.64 231.5,749.45 232.18,753.22 232.62,755.17 233.11,756.88 233.63,758.39 234.23,759.81 234.91,761.12 235.65,762.32 236.51,763.49 237.45,764.56 237.49,799.11 237.71,819.1 237.9,829.65 238.08,836.14 238.31,840.04 238.42,840.81 238.53,840.99 238.65,840.68 238.76,839.99 239.06,836.82 240.18,820.11 240.81,812.01 240.85,778.68 241.15,750.69 241.34,740.11 241.56,732.27 241.79,728.21 241.94,727.01 242.01,726.76 242.09,726.69 242.2,726.9 242.31,727.4 242.53,729.05 243.96,744.34 244.41,748.28 244.89,751.76 245.45,754.88 246.05,757.4 246.72,759.52 247.55,761.42 247.58,796.15 247.81,816.32 248,827.01 248.18,833.62 248.41,837.65 248.52,838.49 248.63,838.72 248.74,838.47 248.86,837.83 249.15,834.78 250.28,818.44 250.91,810.49 250.95,777.06 251.17,754.69 251.55,734.15 251.77,728.42 252,725.84 252.11,725.4 252.18,725.35 252.26,725.47 252.41,726.1 252.6,727.46 254.28,745.41 254.32,780.6 254.62,807.55 254.8,817.54 255.03,824.7 255.25,828.12 255.36,828.82 255.44,828.99 255.51,828.97 255.74,827.94 255.96,825.94 257.35,808.83 257.83,803.89 258.32,799.85 258.88,796.15 259.51,792.92 260.23,790.19 261.01,787.87 261.05,754.12 261.38,726.35 261.57,717.92 261.8,712.25 261.91,710.77 262.06,709.86 262.13,709.78 262.21,709.9 262.36,710.65 262.73,714.48 263.78,729.13 264.38,736.3 264.41,772.13 264.71,799.54 264.9,809.78 265.12,817.24 265.35,820.93 265.46,821.76 265.54,822.01 265.61,822.07 265.72,821.83 265.84,821.29 266.06,819.51 267.48,803.16 267.93,798.94 268.42,795.21 268.98,791.85 269.58,789.12 270.29,786.69 271.11,784.62 271.15,750.64 271.37,730.15 271.56,719.21 271.74,712.37 271.97,708.08 272.08,707.13 272.16,706.85 272.23,706.79 272.34,707.09 272.45,707.76 272.75,710.78 273.91,727.26 274.55,734.93 275.19,740.89 275.86,745.66 276.31,748.16 276.79,750.42 277.35,752.57 277.95,754.48 278.63,756.28 279.41,758.06 280.27,759.71 281.21,761.25 281.24,796.04 281.47,816.11 281.66,826.74 281.84,833.3 282.07,837.28 282.18,838.09 282.29,838.31 282.4,838.04 282.52,837.38 282.81,834.32 283.97,817.43 284.61,809.61 285.25,803.56 285.92,798.76 286.37,796.26 286.85,794.03 287.41,791.9 288.01,790.01 288.69,788.24 289.47,786.5 290.33,784.87 291.3,783.29 291.34,749.31 291.57,728.95 291.75,718.11 291.94,711.35 292.16,707.15 292.28,706.24 292.35,705.98 292.43,705.95 292.65,706.98 292.95,710.08 294.07,726.24 294.67,733.66 294.71,769.68 294.89,788.7 295.27,810.51 295.49,816.62 295.72,819.41 295.83,819.91 295.9,819.99 295.98,819.89 296.13,819.27 296.32,817.88 297.51,804.29 298.04,799.04 298.07,764.91 298.37,737.62 298.56,727.44 298.78,720.06 299.01,716.44 299.12,715.66 299.2,715.43 299.27,715.41 299.5,716.29 299.76,718.57 300.99,733.74 301.74,741.3 302.56,747.33 303.01,749.83 303.5,752.05 304.13,754.39 304.84,756.48 305.63,758.35 306.56,760.16 307.61,761.83 308.81,763.42 310.12,764.85 311.5,766.1 311.54,800.53 311.76,820.47 311.95,830.99 312.14,837.44 312.36,841.3 312.47,842.06 312.59,842.21 312.7,841.89 312.81,841.17 313.03,838.9 314.49,817.5 314.98,811.66 315.47,806.86 316.03,802.44 316.66,798.55 317.37,795.21 318.23,792.1 318.27,758.64 318.46,740.73 318.79,722.11 319.02,716.31 319.24,713.92 319.35,713.65 319.5,713.99 319.8,716.33 321.04,732.68 321.6,739.13 321.64,774.74 321.79,790.38 322.12,812.23 322.31,818.68 322.53,822.84 322.68,824.04 322.76,824.27 322.83,824.3 322.98,823.87 323.17,822.63 324.96,802.3 325,768.4 325.3,740.96 325.49,730.7 325.71,723.22 325.94,719.5 326.05,718.67 326.12,718.41 326.2,718.36 326.31,718.6 326.42,719.15 326.72,721.71 327.81,734.79 328.33,740.35 328.37,775.92 328.67,803.06 328.85,813.16 329.08,820.45 329.3,824 329.42,824.76 329.49,824.97 329.56,824.98 329.79,824.08 330.05,821.81 331.17,808.2 331.81,801.62 332.44,796.56 333.12,792.6 333.57,790.56 334.05,788.75 334.58,787.16 335.17,785.67 335.85,784.28 336.6,782.99 337.46,781.74 338.43,780.53 338.47,746.36 338.69,726.1 338.88,715.33 339.06,708.64 339.29,704.52 339.4,703.66 339.51,703.39 339.63,703.62 339.74,704.24 340,706.79 341.46,727.73 341.94,733.46 342.43,738.17 342.99,742.53 343.63,746.39 344.34,749.73 345.16,752.72 345.2,788.1 345.42,808.51 345.61,819.39 345.8,826.18 346.02,830.44 346.13,831.38 346.21,831.66 346.28,831.71 346.39,831.42 346.51,830.77 346.77,828.24 348,811.34 348.71,803.43 349.5,797.11 349.95,794.41 350.43,792.05 351.03,789.74 351.74,787.59 352.53,785.73 353.46,783.95 354.55,782.28 355.78,780.71 357.13,779.29 358.62,777.99 358.66,743.64 358.89,723.47 359.07,712.77 359.26,706.15 359.48,702.11 359.6,701.28 359.71,701.06 359.82,701.32 359.93,701.98 360.23,705.08 361.39,722.38 361.99,730.12 362.03,766.4 362.25,788.56 362.63,808.78 362.85,814.34 362.96,815.87 363.11,816.95 363.22,817.18 363.37,816.89 363.67,814.9 365.02,800.08 365.84,793.08 366.29,790.26 366.74,788 367.23,786.07 367.79,784.33 368.54,782.59 369.4,781.11 370.44,779.75 371.71,778.47 373.21,777.29 374.93,776.21 376.8,775.29 378.86,774.51" fill="none" stroke="#000" stroke-width="1.6" stroke-linejoin="round"/>
<g font-family='"Liberation Sans", Arial, Helvetica, sans-serif' font-weight="bold" font-size="9.2" fill="#222" stroke="#222" stroke-width="0.2">
<text x="166.8" y="870.8" text-anchor="middle">0</text>
<text x="204.2" y="870.8" text-anchor="middle">1000</text>
<text x="241.6" y="870.8" text-anchor="middle">2000</text>
<text x="279" y="870.8" text-anchor="middle">3000</text>
<text x="316.4" y="870.8" text-anchor="middle">4000</text>
<text x="353.8" y="870.8" text-anchor="middle">5000</text>
<text x="391.2" y="870.8" text-anchor="middle">6000</text>
<text x="163.4" y="861.4" text-anchor="end">-50</text>
<text x="163.4" y="775.85" text-anchor="end">0</text>
<text x="163.4" y="690.3" text-anchor="end">50</text>
</g>
<text x="279.3" y="884.8" text-anchor="middle" font-family='"Liberation Sans", Arial, Helvetica, sans-serif' font-weight="bold" font-size="10.5" fill="#222" stroke="#222" stroke-width="0.2">Time [s]</text>
<text x="279" y="678.5" text-anchor="middle" font-family='"Liberation Sans", Arial, Helvetica, sans-serif' font-weight="bold" font-size="10" fill="#222" stroke="#222" stroke-width="0.2" xml:space="preserve" style="white-space:pre">( g )</text>
<text transform="translate(141.1 772) rotate(-90)" text-anchor="middle" font-family='"Liberation Sans", Arial, Helvetica, sans-serif' font-weight="bold" font-size="9.75" fill="#222" stroke="#222" stroke-width="0.2" xml:space="preserve" style="white-space:pre"><tspan dy="0">Virtual error e</tspan><tspan font-size="7.8" dy="4.4">v3.3</tspan><tspan dy="-4.4">  Model 3</tspan></text>
</g>
</svg></body></html>
